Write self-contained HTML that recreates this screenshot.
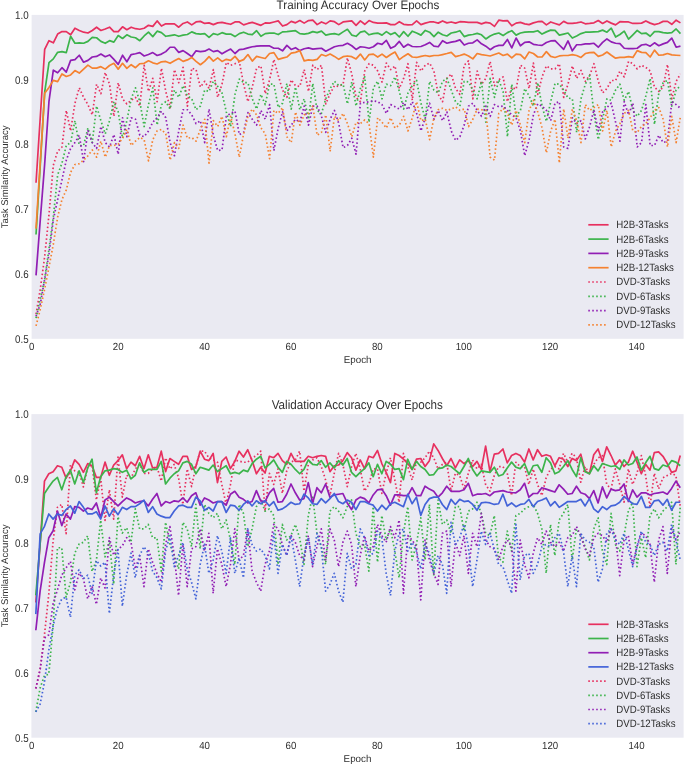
<!DOCTYPE html>
<html><head><meta charset="utf-8"><title>Accuracy Over Epochs</title>
<style>
html,body{margin:0;padding:0;background:#fff;}
body{width:685px;height:765px;position:relative;overflow:hidden;font-family:'Liberation Sans', Arial, sans-serif;}
svg text{font-family:'Liberation Sans', Arial, sans-serif;text-rendering:geometricPrecision;}
</style></head><body>
<svg width="685" height="765" viewBox="0 0 685 765" style="position:absolute;left:0;top:0">
<defs>
<clipPath id="c0"><rect x="31.6" y="14.9" width="652.0" height="323.90000000000003"/></clipPath>
<clipPath id="c1"><rect x="31.4" y="414.1" width="652.2" height="323.6"/></clipPath>
</defs>
<rect x="31.6" y="14.9" width="652.0" height="323.90000000000003" fill="#eaeaf2"/>
<g clip-path="url(#c0)" fill="none" stroke-width="1.7" stroke-linejoin="round">
<path d="M36.03,314.18 L40.35,288.92 L44.68,256.53 L49.00,214.42 L53.33,165.19 L57.65,151.33 L61.98,146.99 L66.30,110.45 L70.62,130.92 L74.95,103.20 L79.28,87.84 L83.60,97.36 L87.93,104.62 L92.25,114.86 L96.58,84.21 L100.90,93.67 L105.23,72.49 L109.55,84.21 L113.88,116.35 L118.20,82.72 L122.53,98.79 L126.85,103.91 L131.18,100.28 L135.50,97.36 L139.82,106.11 L144.15,65.23 L148.48,91.47 L152.80,78.38 L157.12,101.71 L161.45,68.15 L165.78,91.47 L170.10,107.54 L174.43,69.57 L178.75,82.72 L183.07,67.44 L187.40,106.11 L191.73,68.15 L196.05,69.57 L200.38,87.13 L204.70,81.30 L209.03,88.55 L213.35,69.57 L217.68,97.36 L222.00,84.21 L226.32,62.32 L230.65,65.23 L234.98,63.74 L239.30,61.54 L243.62,84.21 L247.95,101.71 L252.28,87.13 L256.60,68.15 L260.93,65.95 L265.25,93.67 L269.57,79.81 L273.90,59.40 L278.23,75.47 L282.55,90.04 L286.88,97.36 L291.20,79.81 L295.52,85.64 L299.85,86.42 L304.18,69.57 L308.50,91.47 L312.82,65.23 L317.15,69.57 L321.48,65.23 L325.80,103.91 L330.12,93.67 L334.45,85.64 L338.77,86.42 L343.10,84.21 L347.43,57.91 L351.75,73.98 L356.07,97.36 L360.40,101.71 L364.73,71.06 L369.05,63.74 L373.38,65.23 L377.70,71.06 L382.02,82.01 L386.35,63.03 L390.68,69.57 L395.00,65.95 L399.32,88.55 L403.65,78.38 L407.98,63.74 L412.30,100.28 L416.62,62.32 L420.95,71.06 L425.27,65.23 L429.60,63.03 L433.93,71.06 L438.25,94.39 L442.57,101.71 L446.90,78.38 L451.23,73.98 L455.55,88.55 L459.88,94.39 L464.20,65.23 L468.53,60.83 L472.85,98.79 L477.18,71.06 L481.50,84.21 L485.82,78.38 L490.15,61.54 L494.48,85.64 L498.80,79.81 L503.12,76.89 L507.45,101.71 L511.78,87.13 L516.10,89.33 L520.43,65.23 L524.75,68.15 L529.08,88.55 L533.40,63.03 L537.73,94.39 L542.05,76.89 L546.38,65.95 L550.70,68.86 L555.03,68.86 L559.35,63.74 L563.68,97.36 L568.00,84.21 L572.33,65.95 L576.65,78.38 L580.98,70.35 L585.30,81.30 L589.63,75.47 L593.95,63.74 L598.28,81.30 L602.60,92.96 L606.93,88.55 L611.25,80.52 L615.58,80.52 L619.90,71.06 L624.23,76.89 L628.55,61.54 L632.88,63.74 L637.20,68.86 L641.53,65.23 L645.85,67.44 L650.18,71.06 L654.50,87.13 L658.83,91.47 L663.15,87.13 L667.48,64.46 L671.80,98.79 L676.13,81.30 L680.45,73.98" stroke="#e7305f" stroke-dasharray="1.55 2.4"/>
<path d="M36.03,318.07 L40.35,298.64 L44.68,279.20 L49.00,248.76 L53.33,217.01 L57.65,174.91 L61.98,163.05 L66.30,145.50 L70.62,142.58 L74.95,120.69 L79.28,145.50 L83.60,145.50 L87.93,128.01 L92.25,142.58 L96.58,106.11 L100.90,120.69 L105.23,133.84 L109.55,120.69 L113.88,101.71 L118.20,111.94 L122.53,138.24 L126.85,120.69 L131.18,98.79 L135.50,87.84 L139.82,101.71 L144.15,126.52 L148.48,104.62 L152.80,87.84 L157.12,125.09 L161.45,104.62 L165.78,101.71 L170.10,109.03 L174.43,90.04 L178.75,97.36 L183.07,85.64 L187.40,95.88 L191.73,98.79 L196.05,109.74 L200.38,106.11 L204.70,90.04 L209.03,91.47 L213.35,81.30 L217.68,86.42 L222.00,92.96 L226.32,111.94 L230.65,126.52 L234.98,94.39 L239.30,79.10 L243.62,82.72 L247.95,82.72 L252.28,98.79 L256.60,109.03 L260.93,94.39 L265.25,104.62 L269.57,84.21 L273.90,84.21 L278.23,107.54 L282.55,103.20 L286.88,83.44 L291.20,109.03 L295.52,87.13 L299.85,109.74 L304.18,98.79 L308.50,119.26 L312.82,83.44 L317.15,110.45 L321.48,113.37 L325.80,98.79 L330.12,88.55 L334.45,81.30 L338.77,85.64 L343.10,84.21 L347.43,103.91 L351.75,82.01 L356.07,106.11 L360.40,88.55 L364.73,76.89 L369.05,122.18 L373.38,87.84 L377.70,81.30 L382.02,98.79 L386.35,84.21 L390.68,85.64 L395.00,76.89 L399.32,91.47 L403.65,109.03 L407.98,92.96 L412.30,85.64 L416.62,80.52 L420.95,103.20 L425.27,119.26 L429.60,81.30 L433.93,90.04 L438.25,92.96 L442.57,81.30 L446.90,78.38 L451.23,90.04 L455.55,101.71 L459.88,106.11 L464.20,81.30 L468.53,82.01 L472.85,90.04 L477.18,98.79 L481.50,81.30 L485.82,122.18 L490.15,78.38 L494.48,97.36 L498.80,79.81 L503.12,91.47 L507.45,136.75 L511.78,84.21 L516.10,116.35 L520.43,110.45 L524.75,88.55 L529.08,95.88 L533.40,106.11 L537.73,82.72 L542.05,106.11 L546.38,121.40 L550.70,101.71 L555.03,83.44 L559.35,84.21 L563.68,90.04 L568.00,98.08 L572.33,98.79 L576.65,132.35 L580.98,98.79 L585.30,84.21 L589.63,75.47 L593.95,113.37 L598.28,139.67 L602.60,119.26 L606.93,98.79 L611.25,100.28 L615.58,90.04 L619.90,84.21 L624.23,100.28 L628.55,91.47 L632.88,110.45 L637.20,116.35 L641.53,110.45 L645.85,95.88 L650.18,78.38 L654.50,124.31 L658.83,92.96 L663.15,82.72 L667.48,80.52 L671.80,106.11 L676.13,90.04 L680.45,85.64" stroke="#3cb44b" stroke-dasharray="1.55 2.4"/>
<path d="M36.03,316.13 L40.35,303.82 L44.68,279.20 L49.00,253.94 L53.33,219.60 L57.65,199.52 L61.98,179.83 L66.30,160.14 L70.62,148.41 L74.95,142.58 L79.28,135.26 L83.60,161.56 L87.93,130.92 L92.25,142.58 L96.58,148.41 L100.90,126.52 L105.23,142.58 L109.55,146.99 L113.88,134.55 L118.20,154.24 L122.53,117.77 L126.85,136.75 L131.18,117.77 L135.50,119.26 L139.82,135.26 L144.15,136.75 L148.48,130.92 L152.80,122.18 L157.12,117.77 L161.45,111.23 L165.78,117.77 L170.10,142.58 L174.43,155.73 L178.75,130.92 L183.07,109.74 L187.40,109.74 L191.73,114.86 L196.05,123.60 L200.38,120.69 L204.70,142.58 L209.03,109.03 L213.35,135.26 L217.68,150.61 L222.00,149.90 L226.32,116.35 L230.65,113.37 L234.98,111.23 L239.30,134.55 L243.62,132.35 L247.95,112.65 L252.28,119.26 L256.60,125.09 L260.93,110.45 L265.25,119.26 L269.57,104.62 L273.90,150.61 L278.23,128.01 L282.55,111.94 L286.88,130.92 L291.20,125.09 L295.52,119.26 L299.85,122.18 L304.18,106.11 L308.50,125.09 L312.82,106.11 L317.15,106.11 L321.48,116.35 L325.80,132.35 L330.12,119.26 L334.45,110.45 L338.77,123.60 L343.10,147.70 L347.43,145.50 L351.75,138.24 L356.07,154.24 L360.40,103.20 L364.73,102.42 L369.05,101.71 L373.38,100.99 L377.70,101.71 L382.02,104.62 L386.35,113.37 L390.68,104.62 L395.00,106.82 L399.32,109.03 L403.65,102.42 L407.98,109.74 L412.30,101.71 L416.62,113.37 L420.95,130.92 L425.27,117.77 L429.60,103.20 L433.93,119.26 L438.25,110.45 L442.57,120.69 L446.90,111.94 L451.23,130.92 L455.55,140.38 L459.88,136.75 L464.20,125.09 L468.53,106.11 L472.85,103.20 L477.18,110.45 L481.50,116.35 L485.82,106.11 L490.15,116.35 L494.48,104.62 L498.80,106.82 L503.12,106.11 L507.45,110.45 L511.78,114.86 L516.10,117.77 L520.43,130.92 L524.75,155.73 L529.08,139.67 L533.40,114.86 L537.73,103.91 L542.05,106.11 L546.38,110.45 L550.70,120.69 L555.03,103.20 L559.35,101.71 L563.68,146.99 L568.00,148.41 L572.33,117.77 L576.65,123.60 L580.98,120.69 L585.30,138.95 L589.63,126.52 L593.95,109.74 L598.28,130.92 L602.60,111.94 L606.93,107.54 L611.25,103.20 L615.58,122.18 L619.90,141.16 L624.23,101.71 L628.55,114.86 L632.88,103.20 L637.20,146.99 L641.53,142.58 L645.85,104.62 L650.18,145.50 L654.50,145.50 L658.83,135.26 L663.15,142.58 L667.48,141.16 L671.80,101.71 L676.13,104.62 L680.45,108.31" stroke="#911eb4" stroke-dasharray="1.55 2.4"/>
<path d="M36.03,325.84 L40.35,309.00 L44.68,288.92 L49.00,266.89 L53.33,244.22 L57.65,217.01 L61.98,199.52 L66.30,189.81 L70.62,172.32 L74.95,164.48 L79.28,163.76 L83.60,160.14 L87.93,155.73 L92.25,149.90 L96.58,157.22 L100.90,141.16 L105.23,157.22 L109.55,145.50 L113.88,145.50 L118.20,144.07 L122.53,138.24 L126.85,129.43 L131.18,145.50 L135.50,141.16 L139.82,137.46 L144.15,139.67 L148.48,160.85 L152.80,139.67 L157.12,130.92 L161.45,129.43 L165.78,133.84 L170.10,160.14 L174.43,142.58 L178.75,148.41 L183.07,125.09 L187.40,138.24 L191.73,137.46 L196.05,141.16 L200.38,129.43 L204.70,119.26 L209.03,163.05 L213.35,120.69 L217.68,126.52 L222.00,116.35 L226.32,136.75 L230.65,116.35 L234.98,133.84 L239.30,157.22 L243.62,133.84 L247.95,116.35 L252.28,109.03 L256.60,114.86 L260.93,128.01 L265.25,133.84 L269.57,158.65 L273.90,110.45 L278.23,113.37 L282.55,107.54 L286.88,136.75 L291.20,142.58 L295.52,111.94 L299.85,125.09 L304.18,114.86 L308.50,113.37 L312.82,106.11 L317.15,135.26 L321.48,132.35 L325.80,114.86 L330.12,151.33 L334.45,116.35 L338.77,120.69 L343.10,113.37 L347.43,123.60 L351.75,136.75 L356.07,122.18 L360.40,123.60 L364.73,119.97 L369.05,123.60 L373.38,157.22 L377.70,117.77 L382.02,122.18 L386.35,128.01 L390.68,117.77 L395.00,128.01 L399.32,125.09 L403.65,116.35 L407.98,130.92 L412.30,117.77 L416.62,101.71 L420.95,120.69 L425.27,119.26 L429.60,139.67 L433.93,117.77 L438.25,109.74 L442.57,108.31 L446.90,110.45 L451.23,109.03 L455.55,106.82 L459.88,110.45 L464.20,109.03 L468.53,126.52 L472.85,119.26 L477.18,109.03 L481.50,109.74 L485.82,110.45 L490.15,157.22 L494.48,160.14 L498.80,113.37 L503.12,108.31 L507.45,113.37 L511.78,125.09 L516.10,110.45 L520.43,125.09 L524.75,142.58 L529.08,110.45 L533.40,100.28 L537.73,111.94 L542.05,128.01 L546.38,152.82 L550.70,130.92 L555.03,119.26 L559.35,163.05 L563.68,109.03 L568.00,138.24 L572.33,109.03 L576.65,120.69 L580.98,142.58 L585.30,104.62 L589.63,110.45 L593.95,107.54 L598.28,104.62 L602.60,130.92 L606.93,110.45 L611.25,146.99 L615.58,130.92 L619.90,123.60 L624.23,113.37 L628.55,110.45 L632.88,130.92 L637.20,132.35 L641.53,126.52 L645.85,123.60 L650.18,117.77 L654.50,110.45 L658.83,107.54 L663.15,119.26 L667.48,146.99 L671.80,116.35 L676.13,142.58 L680.45,116.35" stroke="#f58231" stroke-dasharray="1.55 2.4"/>
<path d="M36.03,182.68 L40.35,115.96 L44.68,49.43 L49.00,40.68 L53.33,42.82 L57.65,34.07 L61.98,31.61 L66.30,31.61 L70.62,34.79 L74.95,28.24 L79.28,30.45 L83.60,32.20 L87.93,33.04 L92.25,30.45 L96.58,27.21 L100.90,30.45 L105.23,28.96 L109.55,27.21 L113.88,31.61 L118.20,31.61 L122.53,26.82 L126.85,29.73 L131.18,27.21 L135.50,28.70 L139.82,29.28 L144.15,28.24 L148.48,25.33 L152.80,26.37 L157.12,20.92 L161.45,26.04 L165.78,23.84 L170.10,23.84 L174.43,23.84 L178.75,27.21 L183.07,23.45 L187.40,21.96 L191.73,24.88 L196.05,21.96 L200.38,21.38 L204.70,23.45 L209.03,22.87 L213.35,24.62 L217.68,22.87 L222.00,22.41 L226.32,23.45 L230.65,24.29 L234.98,21.96 L239.30,21.96 L243.62,24.88 L247.95,23.45 L252.28,22.41 L256.60,23.84 L260.93,25.33 L265.25,22.87 L269.57,23.13 L273.90,21.96 L278.23,20.92 L282.55,26.04 L286.88,24.62 L291.20,21.38 L295.52,22.87 L299.85,20.54 L304.18,23.13 L308.50,20.54 L312.82,20.21 L317.15,24.62 L321.48,21.96 L325.80,23.84 L330.12,20.92 L334.45,21.70 L338.77,24.62 L343.10,21.96 L347.43,21.38 L351.75,20.92 L356.07,25.33 L360.40,20.92 L364.73,24.29 L369.05,20.54 L373.38,22.41 L377.70,23.13 L382.02,23.13 L386.35,22.87 L390.68,24.62 L395.00,24.62 L399.32,21.70 L403.65,24.29 L407.98,24.88 L412.30,24.62 L416.62,20.92 L420.95,24.62 L425.27,23.13 L429.60,21.96 L433.93,21.96 L438.25,23.13 L442.57,20.92 L446.90,22.87 L451.23,21.96 L455.55,23.13 L459.88,21.70 L464.20,21.96 L468.53,22.41 L472.85,22.41 L477.18,22.41 L481.50,23.84 L485.82,22.41 L490.15,23.13 L494.48,26.37 L498.80,20.21 L503.12,20.92 L507.45,20.54 L511.78,25.78 L516.10,23.13 L520.43,22.41 L524.75,23.84 L529.08,24.62 L533.40,22.87 L537.73,21.70 L542.05,21.38 L546.38,24.88 L550.70,21.96 L555.03,23.45 L559.35,24.88 L563.68,21.38 L568.00,23.45 L572.33,23.45 L576.65,22.87 L580.98,21.96 L585.30,23.84 L589.63,23.45 L593.95,22.87 L598.28,20.54 L602.60,23.45 L606.93,20.92 L611.25,23.13 L615.58,24.88 L619.90,21.70 L624.23,21.96 L628.55,21.96 L632.88,23.45 L637.20,23.45 L641.53,23.13 L645.85,20.92 L650.18,23.13 L654.50,24.62 L658.83,23.45 L663.15,21.38 L667.48,21.38 L671.80,24.29 L676.13,20.21 L680.45,22.87" stroke="#e7305f"/>
<path d="M36.03,234.50 L40.35,163.89 L44.68,92.05 L49.00,62.58 L53.33,58.89 L57.65,52.34 L61.98,51.63 L66.30,52.60 L70.62,36.28 L74.95,43.27 L79.28,42.82 L83.60,43.27 L87.93,41.40 L92.25,37.44 L96.58,37.77 L100.90,41.40 L105.23,43.27 L109.55,40.68 L113.88,42.11 L118.20,35.56 L122.53,38.48 L126.85,34.79 L131.18,36.99 L135.50,37.77 L139.82,40.68 L144.15,35.95 L148.48,32.20 L152.80,36.60 L157.12,31.16 L161.45,32.65 L165.78,36.28 L170.10,35.56 L174.43,34.79 L178.75,36.28 L183.07,35.11 L187.40,34.53 L191.73,31.87 L196.05,33.62 L200.38,34.07 L204.70,33.62 L209.03,37.44 L213.35,33.62 L217.68,34.79 L222.00,32.65 L226.32,34.07 L230.65,34.07 L234.98,36.60 L239.30,33.62 L243.62,32.20 L247.95,34.07 L252.28,34.53 L256.60,30.71 L260.93,36.28 L265.25,33.62 L269.57,33.04 L273.90,33.04 L278.23,34.53 L282.55,31.87 L286.88,31.61 L291.20,31.16 L295.52,30.71 L299.85,33.62 L304.18,34.07 L308.50,33.36 L312.82,31.61 L317.15,32.65 L321.48,31.16 L325.80,35.11 L330.12,34.07 L334.45,33.62 L338.77,34.79 L343.10,31.87 L347.43,29.28 L351.75,35.11 L356.07,36.28 L360.40,32.20 L364.73,31.16 L369.05,34.79 L373.38,33.62 L377.70,33.04 L382.02,35.11 L386.35,31.61 L390.68,34.53 L395.00,32.65 L399.32,36.99 L403.65,31.61 L407.98,36.28 L412.30,31.16 L416.62,33.04 L420.95,35.11 L425.27,30.45 L429.60,32.20 L433.93,36.60 L438.25,32.20 L442.57,34.79 L446.90,35.95 L451.23,33.04 L455.55,32.20 L459.88,30.71 L464.20,36.60 L468.53,35.11 L472.85,34.53 L477.18,33.36 L481.50,34.79 L485.82,38.93 L490.15,35.95 L494.48,34.07 L498.80,33.04 L503.12,35.56 L507.45,32.65 L511.78,30.71 L516.10,35.11 L520.43,33.04 L524.75,32.20 L529.08,31.87 L533.40,31.87 L537.73,30.71 L542.05,34.07 L546.38,31.87 L550.70,30.12 L555.03,30.45 L559.35,35.11 L563.68,34.07 L568.00,33.04 L572.33,38.03 L576.65,35.95 L580.98,33.62 L585.30,32.20 L589.63,32.20 L593.95,31.87 L598.28,31.61 L602.60,30.12 L606.93,32.20 L611.25,28.24 L615.58,36.99 L619.90,34.53 L624.23,31.16 L628.55,39.19 L632.88,34.79 L637.20,30.45 L641.53,33.62 L645.85,33.04 L650.18,36.28 L654.50,31.61 L658.83,31.61 L663.15,32.65 L667.48,33.04 L671.80,32.65 L676.13,28.96 L680.45,33.62" stroke="#3cb44b"/>
<path d="M36.03,275.32 L40.35,218.96 L44.68,163.89 L49.00,101.06 L53.33,70.16 L57.65,72.75 L61.98,67.70 L66.30,72.04 L70.62,60.38 L74.95,59.66 L79.28,55.26 L83.60,62.25 L87.93,60.38 L92.25,57.01 L96.58,56.42 L100.90,54.09 L105.23,56.68 L109.55,54.93 L113.88,59.34 L118.20,64.33 L122.53,55.26 L126.85,61.80 L131.18,54.55 L135.50,53.77 L139.82,52.60 L144.15,55.97 L148.48,54.55 L152.80,52.60 L157.12,55.52 L161.45,54.09 L165.78,51.63 L170.10,47.23 L174.43,47.23 L178.75,52.34 L183.07,50.59 L187.40,53.51 L191.73,56.68 L196.05,50.85 L200.38,51.63 L204.70,51.18 L209.03,49.10 L213.35,51.63 L217.68,50.59 L222.00,53.77 L226.32,51.18 L230.65,49.10 L234.98,53.51 L239.30,49.69 L243.62,49.10 L247.95,47.94 L252.28,46.77 L256.60,46.19 L260.93,45.93 L265.25,45.93 L269.57,45.93 L273.90,48.26 L278.23,48.26 L282.55,50.85 L286.88,45.35 L291.20,49.43 L295.52,47.68 L299.85,50.59 L304.18,48.72 L308.50,47.94 L312.82,49.10 L317.15,48.72 L321.48,48.26 L325.80,51.18 L330.12,49.10 L334.45,46.77 L338.77,45.74 L343.10,45.35 L347.43,43.27 L351.75,45.74 L356.07,49.43 L360.40,46.77 L364.73,47.23 L369.05,48.26 L373.38,46.77 L377.70,43.27 L382.02,44.31 L386.35,40.36 L390.68,48.26 L395.00,46.19 L399.32,41.40 L403.65,47.23 L407.98,44.31 L412.30,46.51 L416.62,46.77 L420.95,46.51 L425.27,44.76 L429.60,42.43 L433.93,46.19 L438.25,46.77 L442.57,40.68 L446.90,43.27 L451.23,42.11 L455.55,41.40 L459.88,39.91 L464.20,45.02 L468.53,43.27 L472.85,42.82 L477.18,39.91 L481.50,43.86 L485.82,46.19 L490.15,49.69 L494.48,46.77 L498.80,45.35 L503.12,45.35 L507.45,39.52 L511.78,47.94 L516.10,38.03 L520.43,45.74 L524.75,42.43 L529.08,41.85 L533.40,44.31 L537.73,45.02 L542.05,45.35 L546.38,42.43 L550.70,40.94 L555.03,40.68 L559.35,45.02 L563.68,49.43 L568.00,40.94 L572.33,50.85 L576.65,44.76 L580.98,44.76 L585.30,43.86 L589.63,43.86 L593.95,43.27 L598.28,47.23 L602.60,42.43 L606.93,38.93 L611.25,41.85 L615.58,43.27 L619.90,43.60 L624.23,48.26 L628.55,48.72 L632.88,48.72 L637.20,48.26 L641.53,45.02 L645.85,44.31 L650.18,46.19 L654.50,42.82 L658.83,45.74 L663.15,43.86 L667.48,42.43 L671.80,38.03 L676.13,47.23 L680.45,46.19" stroke="#911eb4"/>
<path d="M36.03,228.67 L40.35,160.66 L44.68,93.22 L49.00,87.39 L53.33,80.39 L57.65,81.56 L61.98,73.91 L66.30,76.44 L70.62,74.95 L74.95,70.61 L79.28,73.07 L83.60,69.12 L87.93,65.17 L92.25,68.08 L96.58,68.08 L100.90,66.66 L105.23,69.12 L109.55,65.49 L113.88,63.29 L118.20,69.12 L122.53,63.29 L126.85,68.41 L131.18,64.72 L135.50,67.70 L139.82,63.74 L144.15,63.29 L148.48,60.83 L152.80,62.84 L157.12,64.00 L161.45,61.80 L165.78,61.41 L170.10,63.29 L174.43,60.83 L178.75,58.50 L183.07,61.41 L187.40,59.92 L191.73,57.46 L196.05,61.41 L200.38,64.72 L204.70,61.41 L209.03,56.68 L213.35,61.09 L217.68,57.91 L222.00,61.41 L226.32,59.34 L230.65,60.38 L234.98,56.42 L239.30,61.41 L243.62,59.66 L247.95,54.55 L252.28,61.09 L256.60,56.42 L260.93,57.46 L265.25,58.50 L269.57,53.51 L273.90,52.60 L278.23,59.34 L282.55,58.17 L286.88,57.01 L291.20,53.06 L295.52,52.34 L299.85,50.59 L304.18,60.83 L308.50,59.92 L312.82,60.38 L317.15,59.34 L321.48,54.55 L325.80,55.97 L330.12,54.09 L334.45,56.42 L338.77,59.34 L343.10,56.68 L347.43,55.97 L351.75,56.68 L356.07,58.89 L360.40,54.09 L364.73,59.92 L369.05,54.55 L373.38,54.09 L377.70,57.01 L382.02,54.09 L386.35,57.46 L390.68,54.55 L395.00,52.02 L399.32,59.66 L403.65,56.42 L407.98,53.77 L412.30,57.01 L416.62,57.46 L420.95,56.42 L425.27,55.52 L429.60,56.42 L433.93,55.52 L438.25,55.52 L442.57,54.55 L446.90,53.51 L451.23,52.34 L455.55,56.68 L459.88,55.52 L464.20,54.09 L468.53,55.97 L472.85,58.89 L477.18,53.51 L481.50,54.55 L485.82,55.26 L490.15,55.97 L494.48,54.55 L498.80,53.06 L503.12,55.52 L507.45,54.09 L511.78,57.91 L516.10,54.09 L520.43,54.55 L524.75,58.89 L529.08,52.02 L533.40,53.51 L537.73,57.01 L542.05,57.01 L546.38,51.63 L550.70,56.42 L555.03,57.46 L559.35,55.97 L563.68,55.52 L568.00,55.52 L572.33,54.55 L576.65,55.52 L580.98,57.46 L585.30,53.51 L589.63,52.60 L593.95,52.34 L598.28,56.42 L602.60,54.93 L606.93,52.02 L611.25,55.26 L615.58,58.17 L619.90,57.46 L624.23,57.46 L628.55,56.68 L632.88,57.46 L637.20,50.59 L641.53,52.34 L645.85,52.60 L650.18,57.01 L654.50,50.14 L658.83,55.26 L663.15,54.93 L667.48,53.51 L671.80,54.93 L676.13,55.26 L680.45,55.52" stroke="#f58231"/>
</g>
<text transform="translate(357.90 8.80) scale(1 1.05)" text-anchor="middle" font-size="11.65" fill="#303030">Training Accuracy Over Epochs</text>
<text transform="translate(28.60 18.79) scale(1 1.15)" text-anchor="end" font-size="9.8" fill="#303030">1.0</text>
<text transform="translate(28.60 83.57) scale(1 1.15)" text-anchor="end" font-size="9.8" fill="#303030">0.9</text>
<text transform="translate(28.60 148.35) scale(1 1.15)" text-anchor="end" font-size="9.8" fill="#303030">0.8</text>
<text transform="translate(28.60 213.13) scale(1 1.15)" text-anchor="end" font-size="9.8" fill="#303030">0.7</text>
<text transform="translate(28.60 277.91) scale(1 1.15)" text-anchor="end" font-size="9.8" fill="#303030">0.6</text>
<text transform="translate(28.60 342.69) scale(1 1.15)" text-anchor="end" font-size="9.8" fill="#303030">0.5</text>
<text transform="translate(31.75 350.05) scale(1 1.06)" text-anchor="middle" font-size="9.7" fill="#303030">0</text>
<text transform="translate(118.15 350.05) scale(1 1.06)" text-anchor="middle" font-size="9.7" fill="#303030">20</text>
<text transform="translate(204.55 350.05) scale(1 1.06)" text-anchor="middle" font-size="9.7" fill="#303030">40</text>
<text transform="translate(290.95 350.05) scale(1 1.06)" text-anchor="middle" font-size="9.7" fill="#303030">60</text>
<text transform="translate(377.35 350.05) scale(1 1.06)" text-anchor="middle" font-size="9.7" fill="#303030">80</text>
<text transform="translate(463.75 350.05) scale(1 1.06)" text-anchor="middle" font-size="9.7" fill="#303030">100</text>
<text transform="translate(550.15 350.05) scale(1 1.06)" text-anchor="middle" font-size="9.7" fill="#303030">120</text>
<text transform="translate(636.55 350.05) scale(1 1.06)" text-anchor="middle" font-size="9.7" fill="#303030">140</text>
<text transform="translate(357.60 362.75) scale(1 1.02)" text-anchor="middle" font-size="9.8" fill="#303030">Epoch</text>
<text transform="translate(8.4 176.8) rotate(-90)" text-anchor="middle" font-size="9.6" fill="#303030">Task Similarity Accuracy</text>
<line x1="588.3" y1="224.8" x2="608.6" y2="224.8" stroke="#e7305f" stroke-width="1.7"/>
<text transform="translate(616.30 228.28) scale(1 1.1)" text-anchor="start" font-size="9.7" fill="#303030">H2B-3Tasks</text>
<line x1="588.3" y1="239.1" x2="608.6" y2="239.1" stroke="#3cb44b" stroke-width="1.7"/>
<text transform="translate(616.30 242.58) scale(1 1.1)" text-anchor="start" font-size="9.7" fill="#303030">H2B-6Tasks</text>
<line x1="588.3" y1="253.4" x2="608.6" y2="253.4" stroke="#911eb4" stroke-width="1.7"/>
<text transform="translate(616.30 256.88) scale(1 1.1)" text-anchor="start" font-size="9.7" fill="#303030">H2B-9Tasks</text>
<line x1="588.3" y1="267.7" x2="608.6" y2="267.7" stroke="#f58231" stroke-width="1.7"/>
<text transform="translate(616.30 271.18) scale(1 1.1)" text-anchor="start" font-size="9.7" fill="#303030">H2B-12Tasks</text>
<line x1="588.3" y1="282.0" x2="606.5" y2="282.0" stroke="#e7305f" stroke-width="1.7" stroke-dasharray="1.55 2.4"/>
<text transform="translate(616.30 285.48) scale(1 1.1)" text-anchor="start" font-size="9.7" fill="#303030">DVD-3Tasks</text>
<line x1="588.3" y1="296.3" x2="606.5" y2="296.3" stroke="#3cb44b" stroke-width="1.7" stroke-dasharray="1.55 2.4"/>
<text transform="translate(616.30 299.78) scale(1 1.1)" text-anchor="start" font-size="9.7" fill="#303030">DVD-6Tasks</text>
<line x1="588.3" y1="310.6" x2="606.5" y2="310.6" stroke="#911eb4" stroke-width="1.7" stroke-dasharray="1.55 2.4"/>
<text transform="translate(616.30 314.08) scale(1 1.1)" text-anchor="start" font-size="9.7" fill="#303030">DVD-9Tasks</text>
<line x1="588.3" y1="324.9" x2="606.5" y2="324.9" stroke="#f58231" stroke-width="1.7" stroke-dasharray="1.55 2.4"/>
<text transform="translate(616.30 328.38) scale(1 1.1)" text-anchor="start" font-size="9.7" fill="#303030">DVD-12Tasks</text>
<rect x="31.4" y="414.1" width="652.2" height="323.6" fill="#eaeaf2"/>
<g clip-path="url(#c1)" fill="none" stroke-width="1.7" stroke-linejoin="round">
<path d="M35.83,688.51 L40.15,669.10 L44.48,634.80 L48.80,594.02 L53.12,540.95 L57.45,507.36 L61.78,504.45 L66.10,533.64 L70.43,465.03 L74.75,470.86 L79.08,472.35 L83.40,486.91 L87.72,466.52 L92.05,465.03 L96.38,500.05 L100.70,478.17 L105.03,520.50 L109.35,489.82 L113.67,519.08 L118.00,457.01 L122.33,497.14 L126.65,475.26 L130.98,478.17 L135.30,468.92 L139.62,464.45 L143.95,473.32 L148.28,473.32 L152.60,468.92 L156.93,466.65 L161.25,481.09 L165.58,457.79 L169.90,468.92 L174.22,464.45 L178.55,477.78 L182.88,504.45 L187.20,468.92 L191.53,486.65 L195.85,466.65 L200.18,451.12 L204.50,451.12 L208.83,457.79 L213.15,459.99 L217.47,462.25 L221.80,484.45 L226.12,504.45 L230.45,484.45 L234.78,459.99 L239.10,461.09 L243.43,462.25 L247.75,462.25 L252.08,457.79 L256.40,455.59 L260.73,451.12 L265.05,511.12 L269.38,473.32 L273.70,484.45 L278.02,468.92 L282.35,493.32 L286.68,471.12 L291.00,462.25 L295.32,459.99 L299.65,451.12 L303.98,491.12 L308.30,464.45 L312.62,459.99 L316.95,457.79 L321.28,466.65 L325.60,479.98 L329.93,495.58 L334.25,473.32 L338.57,453.32 L342.90,464.45 L347.23,486.65 L351.55,466.65 L355.88,453.32 L360.20,468.92 L364.53,491.12 L368.85,484.45 L373.18,468.92 L377.50,468.92 L381.82,493.32 L386.15,473.32 L390.48,457.79 L394.80,479.98 L399.12,502.25 L403.45,453.32 L407.78,466.65 L412.10,479.98 L416.43,462.25 L420.75,462.25 L425.07,457.79 L429.40,451.12 L433.73,457.79 L438.05,468.92 L442.38,464.45 L446.70,462.25 L451.03,491.12 L455.35,473.32 L459.68,475.58 L464.00,488.92 L468.33,473.32 L472.65,459.99 L476.98,468.92 L481.30,464.45 L485.62,484.45 L489.95,491.12 L494.28,475.58 L498.60,466.65 L502.93,466.65 L507.25,473.32 L511.58,495.58 L515.90,462.25 L520.23,466.65 L524.55,466.65 L528.88,484.45 L533.20,468.92 L537.53,484.45 L541.85,495.58 L546.18,477.78 L550.50,468.92 L554.83,466.65 L559.15,468.92 L563.48,453.32 L567.80,462.25 L572.12,453.32 L576.45,457.79 L580.77,482.25 L585.10,466.65 L589.43,473.32 L593.75,464.45 L598.08,457.79 L602.40,455.59 L606.73,484.45 L611.05,488.92 L615.38,468.92 L619.70,484.45 L624.02,502.25 L628.35,468.92 L632.68,484.45 L637.00,473.32 L641.33,455.59 L645.65,475.58 L649.98,506.65 L654.30,473.32 L658.62,488.92 L662.95,477.78 L667.27,475.58 L671.60,473.32 L675.93,475.58 L680.25,506.65" stroke="#e7305f" stroke-dasharray="1.55 2.4"/>
<path d="M35.83,711.81 L40.15,687.87 L44.48,675.57 L48.80,674.27 L53.12,625.73 L57.45,547.75 L61.78,547.75 L66.10,597.13 L70.43,582.50 L74.75,553.18 L79.08,544.06 L83.40,542.25 L87.72,535.84 L92.05,571.50 L96.38,560.50 L100.70,520.24 L105.03,556.87 L109.35,540.37 L113.67,584.31 L118.00,516.62 L122.33,533.06 L126.65,527.55 L130.98,542.25 L135.30,508.91 L139.62,528.91 L143.95,528.91 L148.28,524.45 L152.60,537.78 L156.93,537.78 L161.25,571.11 L165.58,522.25 L169.90,544.45 L174.22,555.58 L178.55,568.91 L182.88,522.25 L187.20,528.91 L191.53,546.65 L195.85,504.45 L200.18,548.91 L204.50,504.45 L208.83,513.32 L213.15,517.78 L217.47,513.32 L221.80,528.91 L226.12,519.98 L230.45,539.98 L234.78,564.44 L239.10,504.45 L243.43,513.32 L247.75,546.65 L252.08,528.91 L256.40,506.65 L260.73,499.98 L265.05,511.12 L269.38,508.91 L273.70,515.58 L278.02,564.44 L282.35,524.45 L286.68,539.98 L291.00,535.58 L295.32,524.45 L299.65,537.78 L303.98,564.44 L308.30,515.58 L312.62,495.58 L316.95,533.31 L321.28,546.65 L325.60,564.44 L329.93,511.12 L334.25,506.65 L338.57,511.12 L342.90,517.78 L347.23,506.65 L351.55,499.98 L355.88,533.31 L360.20,546.65 L364.53,544.45 L368.85,571.11 L373.18,506.65 L377.50,562.24 L381.82,515.58 L386.15,539.98 L390.48,528.91 L394.80,551.11 L399.12,577.78 L403.45,533.31 L407.78,506.65 L412.10,559.98 L416.43,544.45 L420.75,517.78 L425.07,559.98 L429.40,504.45 L433.73,575.58 L438.05,499.98 L442.38,524.45 L446.70,519.98 L451.03,533.31 L455.35,506.65 L459.68,506.65 L464.00,531.11 L468.33,511.12 L472.65,508.91 L476.98,502.25 L481.30,513.32 L485.62,533.31 L489.95,535.58 L494.28,515.58 L498.60,557.78 L502.93,562.24 L507.25,531.11 L511.58,551.11 L515.90,515.58 L520.23,513.32 L524.55,508.91 L528.88,506.65 L533.20,504.45 L537.53,513.32 L541.85,528.91 L546.18,573.31 L550.50,524.45 L554.83,555.58 L559.15,519.98 L563.48,513.32 L567.80,504.45 L572.12,559.98 L576.45,528.91 L580.77,535.58 L585.10,546.65 L589.43,559.98 L593.75,528.91 L598.08,517.78 L602.40,551.11 L606.73,564.44 L611.05,513.32 L615.38,544.45 L619.70,551.11 L624.02,535.58 L628.35,511.12 L632.68,502.25 L637.00,566.65 L641.33,537.78 L645.65,557.78 L649.98,515.58 L654.30,508.91 L658.62,517.78 L662.95,511.12 L667.27,506.65 L671.60,502.25 L675.93,564.44 L680.25,506.65" stroke="#3cb44b" stroke-dasharray="1.55 2.4"/>
<path d="M35.83,688.51 L40.15,669.10 L44.48,638.03 L48.80,634.80 L53.12,603.73 L57.45,589.81 L61.78,575.19 L66.10,567.87 L70.43,561.47 L74.75,589.81 L79.08,573.31 L83.40,578.81 L87.72,598.94 L92.05,586.13 L96.38,604.44 L100.70,577.91 L105.03,588.00 L109.35,537.65 L113.67,555.06 L118.00,549.56 L122.33,545.87 L126.65,537.65 L130.98,542.25 L135.30,568.91 L139.62,555.58 L143.95,586.64 L148.28,548.91 L152.60,562.24 L156.93,573.31 L161.25,582.24 L165.58,544.45 L169.90,526.65 L174.22,555.58 L178.55,595.57 L182.88,544.45 L187.20,586.64 L191.53,548.91 L195.85,546.65 L200.18,528.91 L204.50,551.11 L208.83,533.31 L213.15,593.31 L217.47,548.91 L221.80,564.44 L226.12,586.64 L230.45,564.44 L234.78,528.91 L239.10,559.98 L243.43,555.58 L247.75,528.91 L252.08,571.11 L256.40,582.24 L260.73,591.11 L265.05,564.44 L269.38,551.11 L273.70,524.45 L278.02,528.91 L282.35,544.45 L286.68,555.58 L291.00,535.58 L295.32,542.25 L299.65,555.58 L303.98,559.98 L308.30,535.58 L312.62,566.65 L316.95,546.65 L321.28,528.91 L325.60,559.98 L329.93,528.91 L334.25,539.98 L338.57,566.65 L342.90,542.25 L347.23,531.11 L351.55,544.45 L355.88,586.64 L360.20,555.58 L364.53,535.58 L368.85,551.11 L373.18,546.65 L377.50,524.45 L381.82,535.58 L386.15,542.25 L390.48,526.65 L394.80,537.78 L399.12,519.98 L403.45,593.31 L407.78,535.58 L412.10,539.98 L416.43,546.65 L420.75,599.98 L425.07,539.98 L429.40,559.98 L433.73,573.31 L438.05,584.44 L442.38,533.31 L446.70,531.11 L451.03,586.64 L455.35,542.25 L459.68,555.58 L464.00,535.58 L468.33,573.31 L472.65,533.31 L476.98,546.65 L481.30,513.32 L485.62,539.98 L489.95,546.65 L494.28,548.91 L498.60,559.98 L502.93,546.65 L507.25,539.98 L511.58,546.65 L515.90,591.11 L520.23,539.98 L524.55,564.44 L528.88,577.78 L533.20,553.31 L537.53,537.78 L541.85,544.45 L546.18,531.11 L550.50,542.25 L554.83,546.65 L559.15,542.25 L563.48,551.11 L567.80,537.78 L572.12,535.58 L576.45,526.65 L580.77,535.58 L585.10,548.91 L589.43,555.58 L593.75,537.78 L598.08,533.31 L602.40,535.58 L606.73,542.25 L611.05,528.91 L615.38,535.58 L619.70,575.58 L624.02,539.98 L628.35,535.58 L632.68,564.44 L637.00,546.65 L641.33,533.31 L645.65,535.58 L649.98,544.45 L654.30,582.24 L658.62,539.98 L662.95,526.65 L667.27,573.31 L671.60,528.91 L675.93,539.98 L680.25,531.11" stroke="#911eb4" stroke-dasharray="1.55 2.4"/>
<path d="M35.83,711.81 L40.15,704.05 L44.48,682.04 L48.80,650.33 L53.12,625.73 L57.45,608.13 L61.78,598.94 L66.10,597.13 L70.43,617.26 L74.75,575.19 L79.08,569.69 L83.40,578.81 L87.72,575.19 L92.05,593.44 L96.38,560.50 L100.70,566.00 L105.03,562.37 L109.35,613.63 L113.67,575.19 L118.00,549.56 L122.33,606.25 L126.65,575.19 L130.98,553.18 L135.30,577.78 L139.62,555.58 L143.95,546.65 L148.28,553.31 L152.60,571.11 L156.93,577.78 L161.25,588.91 L165.58,551.11 L169.90,535.58 L174.22,566.65 L178.55,555.58 L182.88,542.25 L187.20,568.91 L191.53,582.24 L195.85,598.88 L200.18,564.44 L204.50,544.45 L208.83,573.31 L213.15,559.98 L217.47,535.58 L221.80,551.11 L226.12,573.31 L230.45,537.78 L234.78,573.31 L239.10,557.78 L243.43,577.78 L247.75,528.91 L252.08,544.45 L256.40,551.11 L260.73,548.91 L265.05,555.58 L269.38,568.91 L273.70,533.31 L278.02,573.31 L282.35,544.45 L286.68,555.58 L291.00,535.58 L295.32,559.98 L299.65,586.64 L303.98,555.58 L308.30,537.78 L312.62,564.44 L316.95,533.31 L321.28,546.65 L325.60,591.11 L329.93,584.44 L334.25,573.31 L338.57,591.11 L342.90,602.24 L347.23,553.31 L351.55,568.91 L355.88,564.44 L360.20,528.91 L364.53,537.78 L368.85,555.58 L373.18,553.31 L377.50,531.11 L381.82,537.78 L386.15,573.31 L390.48,595.57 L394.80,551.11 L399.12,533.31 L403.45,528.91 L407.78,551.11 L412.10,542.25 L416.43,551.11 L420.75,568.91 L425.07,544.45 L429.40,553.31 L433.73,573.31 L438.05,555.58 L442.38,564.44 L446.70,593.31 L451.03,522.25 L455.35,544.45 L459.68,537.78 L464.00,524.45 L468.33,546.65 L472.65,586.64 L476.98,559.98 L481.30,531.11 L485.62,544.45 L489.95,533.31 L494.28,548.91 L498.60,564.44 L502.93,566.65 L507.25,579.98 L511.58,593.31 L515.90,524.45 L520.23,579.98 L524.55,555.58 L528.88,553.31 L533.20,573.31 L537.53,564.44 L541.85,546.65 L546.18,544.45 L550.50,546.65 L554.83,537.78 L559.15,533.31 L563.48,551.11 L567.80,586.64 L572.12,555.58 L576.45,586.64 L580.77,533.31 L585.10,539.98 L589.43,542.25 L593.75,546.65 L598.08,582.24 L602.40,568.91 L606.73,533.31 L611.05,528.91 L615.38,539.98 L619.70,544.45 L624.02,533.31 L628.35,548.91 L632.68,566.65 L637.00,546.65 L641.33,531.11 L645.65,542.25 L649.98,544.45 L654.30,555.58 L658.62,544.45 L662.95,542.25 L667.27,551.11 L671.60,524.45 L675.93,539.98 L680.25,559.98" stroke="#4363d8" stroke-dasharray="1.55 2.4"/>
<path d="M35.83,602.44 L40.15,543.54 L44.48,481.09 L48.80,473.77 L53.12,471.64 L57.45,465.75 L61.78,467.24 L66.10,478.17 L70.43,470.86 L74.75,459.92 L79.08,464.32 L83.40,472.35 L87.72,463.55 L92.05,465.75 L96.38,477.46 L100.70,477.46 L105.03,462.12 L109.35,475.26 L113.67,465.03 L118.00,460.63 L122.33,454.81 L126.65,468.66 L130.98,462.12 L135.30,465.75 L139.62,456.30 L143.95,468.66 L148.28,454.81 L152.60,467.95 L156.93,467.24 L161.25,451.18 L165.58,471.64 L169.90,458.50 L174.22,461.41 L178.55,464.32 L182.88,456.30 L187.20,456.30 L191.53,469.44 L195.85,466.52 L200.18,451.18 L204.50,459.21 L208.83,460.63 L213.15,453.39 L217.47,482.57 L221.80,461.41 L226.12,457.01 L230.45,468.66 L234.78,461.41 L239.10,451.18 L243.43,457.01 L247.75,449.70 L252.08,460.63 L256.40,473.77 L260.73,467.24 L265.05,473.06 L269.38,456.30 L273.70,457.72 L278.02,453.39 L282.35,460.63 L286.68,464.32 L291.00,453.39 L295.32,461.41 L299.65,461.41 L303.98,461.41 L308.30,456.30 L312.62,457.72 L316.95,456.30 L321.28,455.52 L325.60,456.30 L329.93,471.64 L334.25,465.75 L338.57,465.03 L342.90,460.63 L347.23,452.61 L351.55,457.72 L355.88,470.15 L360.20,459.92 L364.53,468.66 L368.85,456.30 L373.18,457.72 L377.50,450.41 L381.82,463.55 L386.15,472.35 L390.48,482.57 L394.80,453.39 L399.12,455.52 L403.45,459.21 L407.78,463.55 L412.10,469.44 L416.43,459.21 L420.75,458.50 L425.07,466.52 L429.40,460.63 L433.73,443.87 L438.05,450.41 L442.38,458.50 L446.70,465.75 L451.03,458.50 L455.35,467.95 L459.68,459.92 L464.00,463.55 L468.33,460.63 L472.65,466.52 L476.98,461.41 L481.30,469.44 L485.62,446.07 L489.95,471.64 L494.28,454.10 L498.60,453.39 L502.93,448.98 L507.25,462.83 L511.58,455.52 L515.90,453.39 L520.23,455.52 L524.55,462.12 L528.88,448.98 L533.20,459.92 L537.53,449.70 L541.85,456.30 L546.18,454.81 L550.50,456.30 L554.83,465.75 L559.15,457.72 L563.48,459.21 L567.80,466.52 L572.12,458.50 L576.45,460.63 L580.77,454.10 L585.10,470.86 L589.43,473.77 L593.75,454.81 L598.08,448.98 L602.40,461.41 L606.73,446.78 L611.05,455.52 L615.38,465.03 L619.70,459.92 L624.02,466.52 L628.35,462.12 L632.68,451.18 L637.00,462.12 L641.33,473.77 L645.65,464.32 L649.98,470.15 L654.30,452.61 L658.62,451.90 L662.95,456.30 L667.27,463.55 L671.60,472.35 L675.93,470.86 L680.25,455.52" stroke="#e7305f"/>
<path d="M35.83,595.32 L40.15,543.54 L44.48,493.51 L48.80,486.91 L53.12,481.09 L57.45,477.46 L61.78,489.82 L66.10,476.68 L70.43,470.15 L74.75,484.00 L79.08,470.86 L83.40,482.57 L87.72,467.95 L92.05,459.21 L96.38,492.80 L100.70,476.68 L105.03,470.86 L109.35,470.15 L113.67,468.66 L118.00,469.44 L122.33,472.35 L126.65,470.15 L130.98,478.88 L135.30,475.26 L139.62,462.83 L143.95,472.35 L148.28,469.44 L152.60,469.44 L156.93,469.44 L161.25,461.41 L165.58,484.00 L169.90,478.17 L174.22,473.77 L178.55,470.86 L182.88,462.83 L187.20,461.41 L191.53,464.32 L195.85,473.77 L200.18,467.24 L204.50,468.66 L208.83,470.15 L213.15,465.03 L217.47,471.64 L221.80,468.66 L226.12,465.75 L230.45,473.77 L234.78,472.35 L239.10,473.77 L243.43,470.15 L247.75,471.64 L252.08,463.55 L256.40,459.21 L260.73,456.30 L265.05,467.95 L269.38,464.32 L273.70,459.92 L278.02,467.24 L282.35,472.35 L286.68,461.41 L291.00,464.32 L295.32,469.44 L299.65,473.77 L303.98,469.44 L308.30,459.92 L312.62,464.32 L316.95,465.03 L321.28,460.63 L325.60,467.24 L329.93,462.83 L334.25,467.95 L338.57,460.63 L342.90,465.03 L347.23,458.50 L351.55,472.35 L355.88,476.68 L360.20,472.35 L364.53,468.66 L368.85,462.83 L373.18,476.68 L377.50,464.32 L381.82,473.77 L386.15,461.41 L390.48,464.32 L394.80,469.44 L399.12,468.66 L403.45,479.66 L407.78,459.21 L412.10,469.44 L416.43,461.41 L420.75,466.52 L425.07,469.44 L429.40,475.26 L433.73,474.55 L438.05,468.66 L442.38,467.95 L446.70,465.03 L451.03,466.52 L455.35,470.15 L459.68,473.77 L464.00,466.52 L468.33,458.50 L472.65,469.44 L476.98,475.97 L481.30,470.86 L485.62,471.64 L489.95,472.35 L494.28,467.24 L498.60,475.97 L502.93,474.55 L507.25,467.95 L511.58,462.12 L515.90,467.24 L520.23,468.66 L524.55,463.55 L528.88,474.55 L533.20,465.75 L537.53,465.03 L541.85,472.35 L546.18,457.72 L550.50,462.83 L554.83,473.77 L559.15,471.64 L563.48,466.52 L567.80,460.63 L572.12,469.44 L576.45,476.68 L580.77,457.72 L585.10,471.64 L589.43,473.77 L593.75,465.75 L598.08,470.86 L602.40,463.55 L606.73,465.03 L611.05,466.52 L615.38,465.75 L619.70,469.44 L624.02,459.92 L628.35,465.03 L632.68,463.55 L637.00,457.01 L641.33,470.15 L645.65,462.83 L649.98,456.30 L654.30,468.66 L658.62,470.15 L662.95,465.03 L667.27,466.52 L671.60,460.63 L675.93,462.12 L680.25,465.75" stroke="#3cb44b"/>
<path d="M35.83,630.26 L40.15,590.79 L44.48,562.31 L48.80,537.72 L53.12,530.73 L57.45,511.05 L61.78,525.61 L66.10,513.96 L70.43,519.08 L74.75,506.65 L79.08,507.36 L83.40,511.05 L87.72,508.07 L92.05,509.56 L96.38,502.96 L100.70,517.59 L105.03,500.05 L109.35,497.14 L113.67,501.54 L118.00,505.94 L122.33,501.54 L126.65,497.91 L130.98,500.05 L135.30,502.96 L139.62,501.54 L143.95,500.82 L148.28,505.94 L152.60,499.34 L156.93,493.51 L161.25,505.94 L165.58,501.54 L169.90,502.96 L174.22,500.82 L178.55,501.54 L182.88,497.91 L187.20,502.25 L191.53,495.71 L195.85,492.80 L200.18,505.16 L204.50,497.91 L208.83,500.05 L213.15,502.96 L217.47,501.54 L221.80,501.54 L226.12,505.16 L230.45,494.22 L234.78,491.31 L239.10,497.14 L243.43,499.34 L247.75,502.96 L252.08,501.54 L256.40,490.60 L260.73,500.82 L265.05,501.54 L269.38,492.80 L273.70,488.40 L278.02,502.25 L282.35,501.54 L286.68,494.22 L291.00,484.00 L295.32,492.80 L299.65,500.05 L303.98,498.62 L308.30,482.57 L312.62,502.96 L316.95,487.69 L321.28,492.80 L325.60,484.00 L329.93,497.14 L334.25,494.94 L338.57,494.22 L342.90,493.51 L347.23,502.96 L351.55,509.56 L355.88,500.05 L360.20,497.14 L364.53,498.62 L368.85,502.96 L373.18,494.94 L377.50,489.82 L381.82,489.11 L386.15,495.71 L390.48,505.16 L394.80,494.94 L399.12,494.94 L403.45,495.71 L407.78,495.71 L412.10,487.69 L416.43,495.71 L420.75,495.71 L425.07,486.20 L429.40,489.11 L433.73,491.31 L438.05,497.14 L442.38,492.80 L446.70,486.20 L451.03,491.31 L455.35,491.31 L459.68,491.31 L464.00,489.82 L468.33,483.29 L472.65,495.71 L476.98,494.22 L481.30,494.22 L485.62,493.51 L489.95,495.71 L494.28,492.02 L498.60,491.31 L502.93,490.60 L507.25,492.02 L511.58,492.48 L515.90,492.80 L520.23,489.82 L524.55,483.29 L528.88,497.14 L533.20,493.51 L537.53,493.51 L541.85,487.69 L546.18,489.11 L550.50,490.60 L554.83,492.02 L559.15,484.77 L563.48,489.11 L567.80,494.22 L572.12,493.51 L576.45,486.20 L580.77,492.80 L585.10,494.22 L589.43,498.62 L593.75,490.60 L598.08,502.96 L602.40,486.91 L606.73,497.91 L611.05,489.11 L615.38,490.60 L619.70,489.82 L624.02,484.00 L628.35,501.54 L632.68,489.82 L637.00,497.14 L641.33,492.80 L645.65,492.80 L649.98,494.94 L654.30,493.51 L658.62,492.80 L662.95,492.02 L667.27,494.22 L671.60,488.40 L675.93,481.09 L680.25,487.69" stroke="#911eb4"/>
<path d="M35.83,614.08 L40.15,533.83 L44.48,526.32 L48.80,513.96 L53.12,519.08 L57.45,513.96 L61.78,515.39 L66.10,509.56 L70.43,505.94 L74.75,513.19 L79.08,501.54 L83.40,507.36 L87.72,513.96 L92.05,513.96 L96.38,511.76 L100.70,519.08 L105.03,505.94 L109.35,516.16 L113.67,508.85 L118.00,514.67 L122.33,507.36 L126.65,509.56 L130.98,506.65 L135.30,506.65 L139.62,503.74 L143.95,500.05 L148.28,512.47 L152.60,506.65 L156.93,513.96 L161.25,516.16 L165.58,517.59 L169.90,517.59 L174.22,511.05 L178.55,505.94 L182.88,505.16 L187.20,507.36 L191.53,507.36 L195.85,497.14 L200.18,500.82 L204.50,510.27 L208.83,507.36 L213.15,511.05 L217.47,501.54 L221.80,501.54 L226.12,512.47 L230.45,505.16 L234.78,505.94 L239.10,510.27 L243.43,504.45 L247.75,500.82 L252.08,505.94 L256.40,500.82 L260.73,503.74 L265.05,500.82 L269.38,505.94 L273.70,501.54 L278.02,510.27 L282.35,508.85 L286.68,505.94 L291.00,502.25 L295.32,504.45 L299.65,503.74 L303.98,494.22 L308.30,497.91 L312.62,503.74 L316.95,504.45 L321.28,498.62 L325.60,502.96 L329.93,498.62 L334.25,493.51 L338.57,501.54 L342.90,503.74 L347.23,500.05 L351.55,502.25 L355.88,509.56 L360.20,501.54 L364.53,501.54 L368.85,503.74 L373.18,505.16 L377.50,511.05 L381.82,505.16 L386.15,509.56 L390.48,503.74 L394.80,502.25 L399.12,504.45 L403.45,506.65 L407.78,494.22 L412.10,503.74 L416.43,497.14 L420.75,515.39 L425.07,504.45 L429.40,498.62 L433.73,497.14 L438.05,497.14 L442.38,504.45 L446.70,509.56 L451.03,499.34 L455.35,504.45 L459.68,499.34 L464.00,501.54 L468.33,500.82 L472.65,504.45 L476.98,510.27 L481.30,502.96 L485.62,502.25 L489.95,502.96 L494.28,504.45 L498.60,503.74 L502.93,494.22 L507.25,505.94 L511.58,502.96 L515.90,506.65 L520.23,504.45 L524.55,503.74 L528.88,499.34 L533.20,506.65 L537.53,501.54 L541.85,500.05 L546.18,497.91 L550.50,505.94 L554.83,501.54 L559.15,507.36 L563.48,504.45 L567.80,501.54 L572.12,501.54 L576.45,501.54 L580.77,499.34 L585.10,505.94 L589.43,498.62 L593.75,508.85 L598.08,512.47 L602.40,506.65 L606.73,509.56 L611.05,505.94 L615.38,505.16 L619.70,502.25 L624.02,496.42 L628.35,500.05 L632.68,503.74 L637.00,504.45 L641.33,496.42 L645.65,507.36 L649.98,507.36 L654.30,500.82 L658.62,500.05 L662.95,505.16 L667.27,499.34 L671.60,510.27 L675.93,502.25 L680.25,502.25" stroke="#4363d8"/>
</g>
<text transform="translate(357.30 408.60) scale(1 1.1)" text-anchor="middle" font-size="11.65" fill="#303030">Validation Accuracy Over Epochs</text>
<text transform="translate(28.60 417.99) scale(1 1.15)" text-anchor="end" font-size="9.8" fill="#303030">1.0</text>
<text transform="translate(28.60 482.71) scale(1 1.15)" text-anchor="end" font-size="9.8" fill="#303030">0.9</text>
<text transform="translate(28.60 547.43) scale(1 1.15)" text-anchor="end" font-size="9.8" fill="#303030">0.8</text>
<text transform="translate(28.60 612.15) scale(1 1.15)" text-anchor="end" font-size="9.8" fill="#303030">0.7</text>
<text transform="translate(28.60 676.87) scale(1 1.15)" text-anchor="end" font-size="9.8" fill="#303030">0.6</text>
<text transform="translate(28.60 741.59) scale(1 1.15)" text-anchor="end" font-size="9.8" fill="#303030">0.5</text>
<text transform="translate(31.75 748.95) scale(1 1.06)" text-anchor="middle" font-size="9.7" fill="#303030">0</text>
<text transform="translate(118.15 748.95) scale(1 1.06)" text-anchor="middle" font-size="9.7" fill="#303030">20</text>
<text transform="translate(204.55 748.95) scale(1 1.06)" text-anchor="middle" font-size="9.7" fill="#303030">40</text>
<text transform="translate(290.95 748.95) scale(1 1.06)" text-anchor="middle" font-size="9.7" fill="#303030">60</text>
<text transform="translate(377.35 748.95) scale(1 1.06)" text-anchor="middle" font-size="9.7" fill="#303030">80</text>
<text transform="translate(463.75 748.95) scale(1 1.06)" text-anchor="middle" font-size="9.7" fill="#303030">100</text>
<text transform="translate(550.15 748.95) scale(1 1.06)" text-anchor="middle" font-size="9.7" fill="#303030">120</text>
<text transform="translate(636.55 748.95) scale(1 1.06)" text-anchor="middle" font-size="9.7" fill="#303030">140</text>
<text transform="translate(357.50 761.65) scale(1 1.02)" text-anchor="middle" font-size="9.8" fill="#303030">Epoch</text>
<text transform="translate(8.4 575.9) rotate(-90)" text-anchor="middle" font-size="9.6" fill="#303030">Task Similarity Accuracy</text>
<line x1="588.3" y1="624.3" x2="608.6" y2="624.3" stroke="#e7305f" stroke-width="1.7"/>
<text transform="translate(616.30 627.78) scale(1 1.1)" text-anchor="start" font-size="9.7" fill="#303030">H2B-3Tasks</text>
<line x1="588.3" y1="638.5" x2="608.6" y2="638.5" stroke="#3cb44b" stroke-width="1.7"/>
<text transform="translate(616.30 641.98) scale(1 1.1)" text-anchor="start" font-size="9.7" fill="#303030">H2B-6Tasks</text>
<line x1="588.3" y1="652.7" x2="608.6" y2="652.7" stroke="#911eb4" stroke-width="1.7"/>
<text transform="translate(616.30 656.18) scale(1 1.1)" text-anchor="start" font-size="9.7" fill="#303030">H2B-9Tasks</text>
<line x1="588.3" y1="666.9" x2="608.6" y2="666.9" stroke="#4363d8" stroke-width="1.7"/>
<text transform="translate(616.30 670.38) scale(1 1.1)" text-anchor="start" font-size="9.7" fill="#303030">H2B-12Tasks</text>
<line x1="588.3" y1="681.1" x2="606.5" y2="681.1" stroke="#e7305f" stroke-width="1.7" stroke-dasharray="1.55 2.4"/>
<text transform="translate(616.30 684.58) scale(1 1.1)" text-anchor="start" font-size="9.7" fill="#303030">DVD-3Tasks</text>
<line x1="588.3" y1="695.3" x2="606.5" y2="695.3" stroke="#3cb44b" stroke-width="1.7" stroke-dasharray="1.55 2.4"/>
<text transform="translate(616.30 698.78) scale(1 1.1)" text-anchor="start" font-size="9.7" fill="#303030">DVD-6Tasks</text>
<line x1="588.3" y1="709.5" x2="606.5" y2="709.5" stroke="#911eb4" stroke-width="1.7" stroke-dasharray="1.55 2.4"/>
<text transform="translate(616.30 712.98) scale(1 1.1)" text-anchor="start" font-size="9.7" fill="#303030">DVD-9Tasks</text>
<line x1="588.3" y1="723.7" x2="606.5" y2="723.7" stroke="#4363d8" stroke-width="1.7" stroke-dasharray="1.55 2.4"/>
<text transform="translate(616.30 727.18) scale(1 1.1)" text-anchor="start" font-size="9.7" fill="#303030">DVD-12Tasks</text>
</svg>
</body></html>
